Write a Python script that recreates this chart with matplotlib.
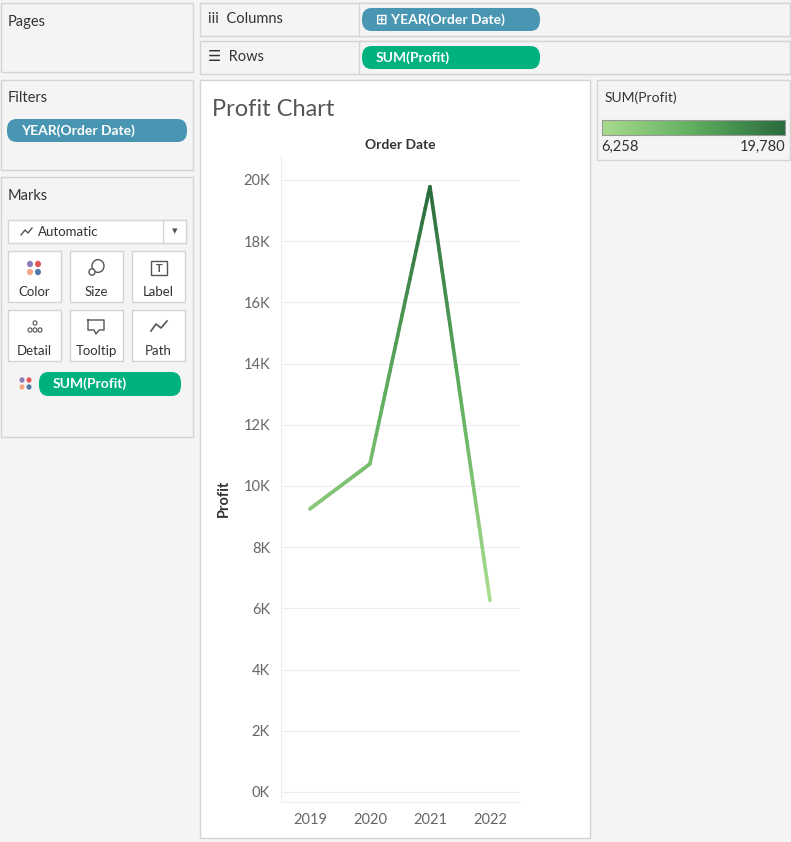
import numpy as np
import matplotlib
matplotlib.use("Agg")
import matplotlib.pyplot as plt
from matplotlib.patches import Rectangle, FancyBboxPatch
from matplotlib.collections import LineCollection
from matplotlib.lines import Line2D
from matplotlib.colors import LinearSegmentedColormap, Normalize

years = [2019, 2020, 2021, 2022]
profit = [9250, 10720, 19780, 6258]
yticks = [0, 2000, 4000, 6000, 8000, 10000, 12000, 14000, 16000, 18000, 20000]
ytick_labels = ["0K", "2K", "4K", "6K", "8K", "10K", "12K", "14K", "16K", "18K", "20K"]

W, H = 791, 842
fig = plt.figure(figsize=(W/100, H/100), dpi=100)
fig.patch.set_facecolor("#f4f4f4")
plt.rcParams['font.family'] = ['Lato', 'DejaVu Sans']

def fx(x): return x / W
def fy(y): return 1 - y / H

def box(x0, y0, x1, y1, fc="#f4f4f4", ec="#d4d4d4"):
    fig.patches.append(Rectangle((fx(x0), fy(y1)), fx(x1 - x0), (y1 - y0) / H,
                                 transform=fig.transFigure, fc=fc, ec=ec, lw=1, zorder=0))

def txt(x, y, s, size=10, color="#333333", **kw):
    fig.text(fx(x), fy(y), s, fontsize=size, color=color, va="center", **kw)

def pill(x0, y0, x1, y1, fc, s):
    fig.patches.append(FancyBboxPatch((fx(x0), fy(y1)), fx(x1 - x0), (y1 - y0) / H,
                       boxstyle="round,pad=0,rounding_size=0.012", transform=fig.transFigure,
                       fc=fc, ec="none", mutation_aspect=H / W, zorder=0))
    txt(x0 + 14, (y0 + y1) / 2, s, size=10, color="white", fontweight="bold")

def pline(xs, ys, c="#555555", lw=1.2):
    fig.add_artist(Line2D([fx(x) for x in xs], [fy(y) for y in ys], color=c, lw=lw,
                          transform=fig.transFigure))

# side panels
box(1, 3, 193, 72); txt(8, 22, "Pages", 10.5)
box(1, 80, 193, 170); txt(8, 98, "Filters", 10.5)
pill(7, 119, 187, 142, "#4996b2", "YEAR(Order Date)")
box(1, 177, 193, 437); txt(8, 196, "Marks", 10.5)
box(8, 220, 186, 243, fc="white"); txt(38, 232, "Automatic", 9.5)
pline([21, 25, 28, 32], [235, 230, 233, 228], lw=1)
box(163, 220, 186, 243, fc="white")
txt(175, 231, "▾", 8, "#555555", ha="center")
for i, lab in enumerate(["Color", "Size", "Label"]):
    x0 = 8 + i * 62
    box(x0, 251, x0 + 53, 302, fc="white"); txt(x0 + 26, 292, lab, 9.5, ha="center")
for i, lab in enumerate(["Detail", "Tooltip", "Path"]):
    x0 = 8 + i * 62
    box(x0, 310, x0 + 53, 361, fc="white"); txt(x0 + 26, 351, lab, 9.5, ha="center")
# icons
for dx, dy, c in [(0, 0, "#8c7bb8"), (8, 0, "#e15759"), (0, 8, "#f4a582"), (8, 8, "#4e79a7")]:
    fig.add_artist(plt.Circle((fx(30 + dx), fy(264 + dy)), 3 / W, transform=fig.transFigure, fc=c, ec="none"))
fig.add_artist(plt.Circle((fx(98), fy(266)), 6 / W, transform=fig.transFigure, fc="none", ec="#555555", lw=1))
fig.add_artist(plt.Circle((fx(92), fy(272)), 3 / W, transform=fig.transFigure, fc="white", ec="#555555", lw=1))
box(151, 261, 167, 275, fc="white", ec="#555555"); txt(159, 268, "T", 8, "#555555", ha="center", fontweight="bold")
for dx, dy in [(0, -5), (-5, 2), (0, 2), (5, 2)]:
    fig.add_artist(plt.Circle((fx(35 + dx), fy(328 + dy)), 2 / W, transform=fig.transFigure, fc="none", ec="#555555", lw=0.8))
pline([88, 104, 104, 99, 96, 94, 88, 88], [320, 320, 330, 330, 334, 330, 330, 320], lw=1)
pline([151, 156, 161, 167], [331, 324, 328, 321])
for dx, dy, c in [(0, 0, "#8c7bb8"), (7, 0, "#e15759"), (0, 7, "#f4a582"), (7, 7, "#4e79a7")]:
    fig.add_artist(plt.Circle((fx(22 + dx), fy(380 + dy)), 2.5 / W, transform=fig.transFigure, fc=c, ec="none"))
pill(39, 372, 181, 396, "#00b180", "SUM(Profit)")

# shelves
box(200, 3, 790, 36); txt(208, 19, "iii  Columns", 10.5); box(359, 3, 790, 36)
pill(362, 8, 540, 31, "#4996b2", "⊞ YEAR(Order Date)")
box(200, 41, 790, 74); txt(208, 57, "☰  Rows", 10.5); box(359, 41, 790, 74)
pill(362, 46, 540, 69, "#00b180", "SUM(Profit)")

# chart area
box(200, 80, 590, 838, fc="white")
txt(212, 109, "Profit Chart", 17, "#555555")
txt(400, 145, "Order Date", 10, "#333333", ha="center", fontweight="bold")

# legend
box(597, 80, 790, 160)
txt(605, 98, "SUM(Profit)", 10)
cmap = LinearSegmentedColormap.from_list("g", ["#a9dc8e", "#5fae5f", "#2a6b3c"])
lax = fig.add_axes([fx(602), fy(135), fx(785 - 602), 15 / H], zorder=5)
lax.imshow(np.linspace(0, 1, 256)[None, :], aspect="auto", cmap=cmap)
lax.set_xticks([]); lax.set_yticks([])
for s in lax.spines.values(): s.set_color("#999999")
txt(601, 147, f"{min(profit):,}", 10.5)
txt(785, 147, f"{max(profit):,}", 10.5, ha="right")

ax = fig.add_axes([fx(281), fy(802), fx(520 - 281), (802 - 155) / H], zorder=5)
ax.patch.set_alpha(0)
ax.set_xlim(2018.52, 2022.5)
ax.set_ylim(-327, 20817)
ax.set_yticks(yticks); ax.set_yticklabels(ytick_labels)
ax.set_xticks(years); ax.set_xticklabels([str(y) for y in years])
ax.tick_params(length=0, colors="#666666", labelsize=10.5, pad=8)
ax.grid(axis="y", color="#eeeeee", lw=0.8)
for s in ["top", "right"]: ax.spines[s].set_visible(False)
ax.spines["left"].set_color("#eeeeee"); ax.spines["bottom"].set_color("#eeeeee")
ax.set_ylabel("Profit", fontsize=10.5, color="#333333", fontweight="bold", labelpad=-2)
ax.yaxis.set_label_coords(-0.21, 0.47)

norm = Normalize(min(profit), max(profit))
segs, cols = [], []
for i in range(len(years) - 1):
    t = np.linspace(0, 1, 40)
    xs = years[i] + t * (years[i + 1] - years[i])
    ys = profit[i] + t * (profit[i + 1] - profit[i])
    for j in range(len(t) - 1):
        segs.append([(xs[j], ys[j]), (xs[j + 1], ys[j + 1])])
        cols.append(cmap(norm((ys[j] + ys[j + 1]) / 2)))
ax.add_collection(LineCollection(segs, colors=cols, lw=2.6, capstyle="round"))

fig.savefig("out.png", dpi=100, facecolor=fig.get_facecolor())
